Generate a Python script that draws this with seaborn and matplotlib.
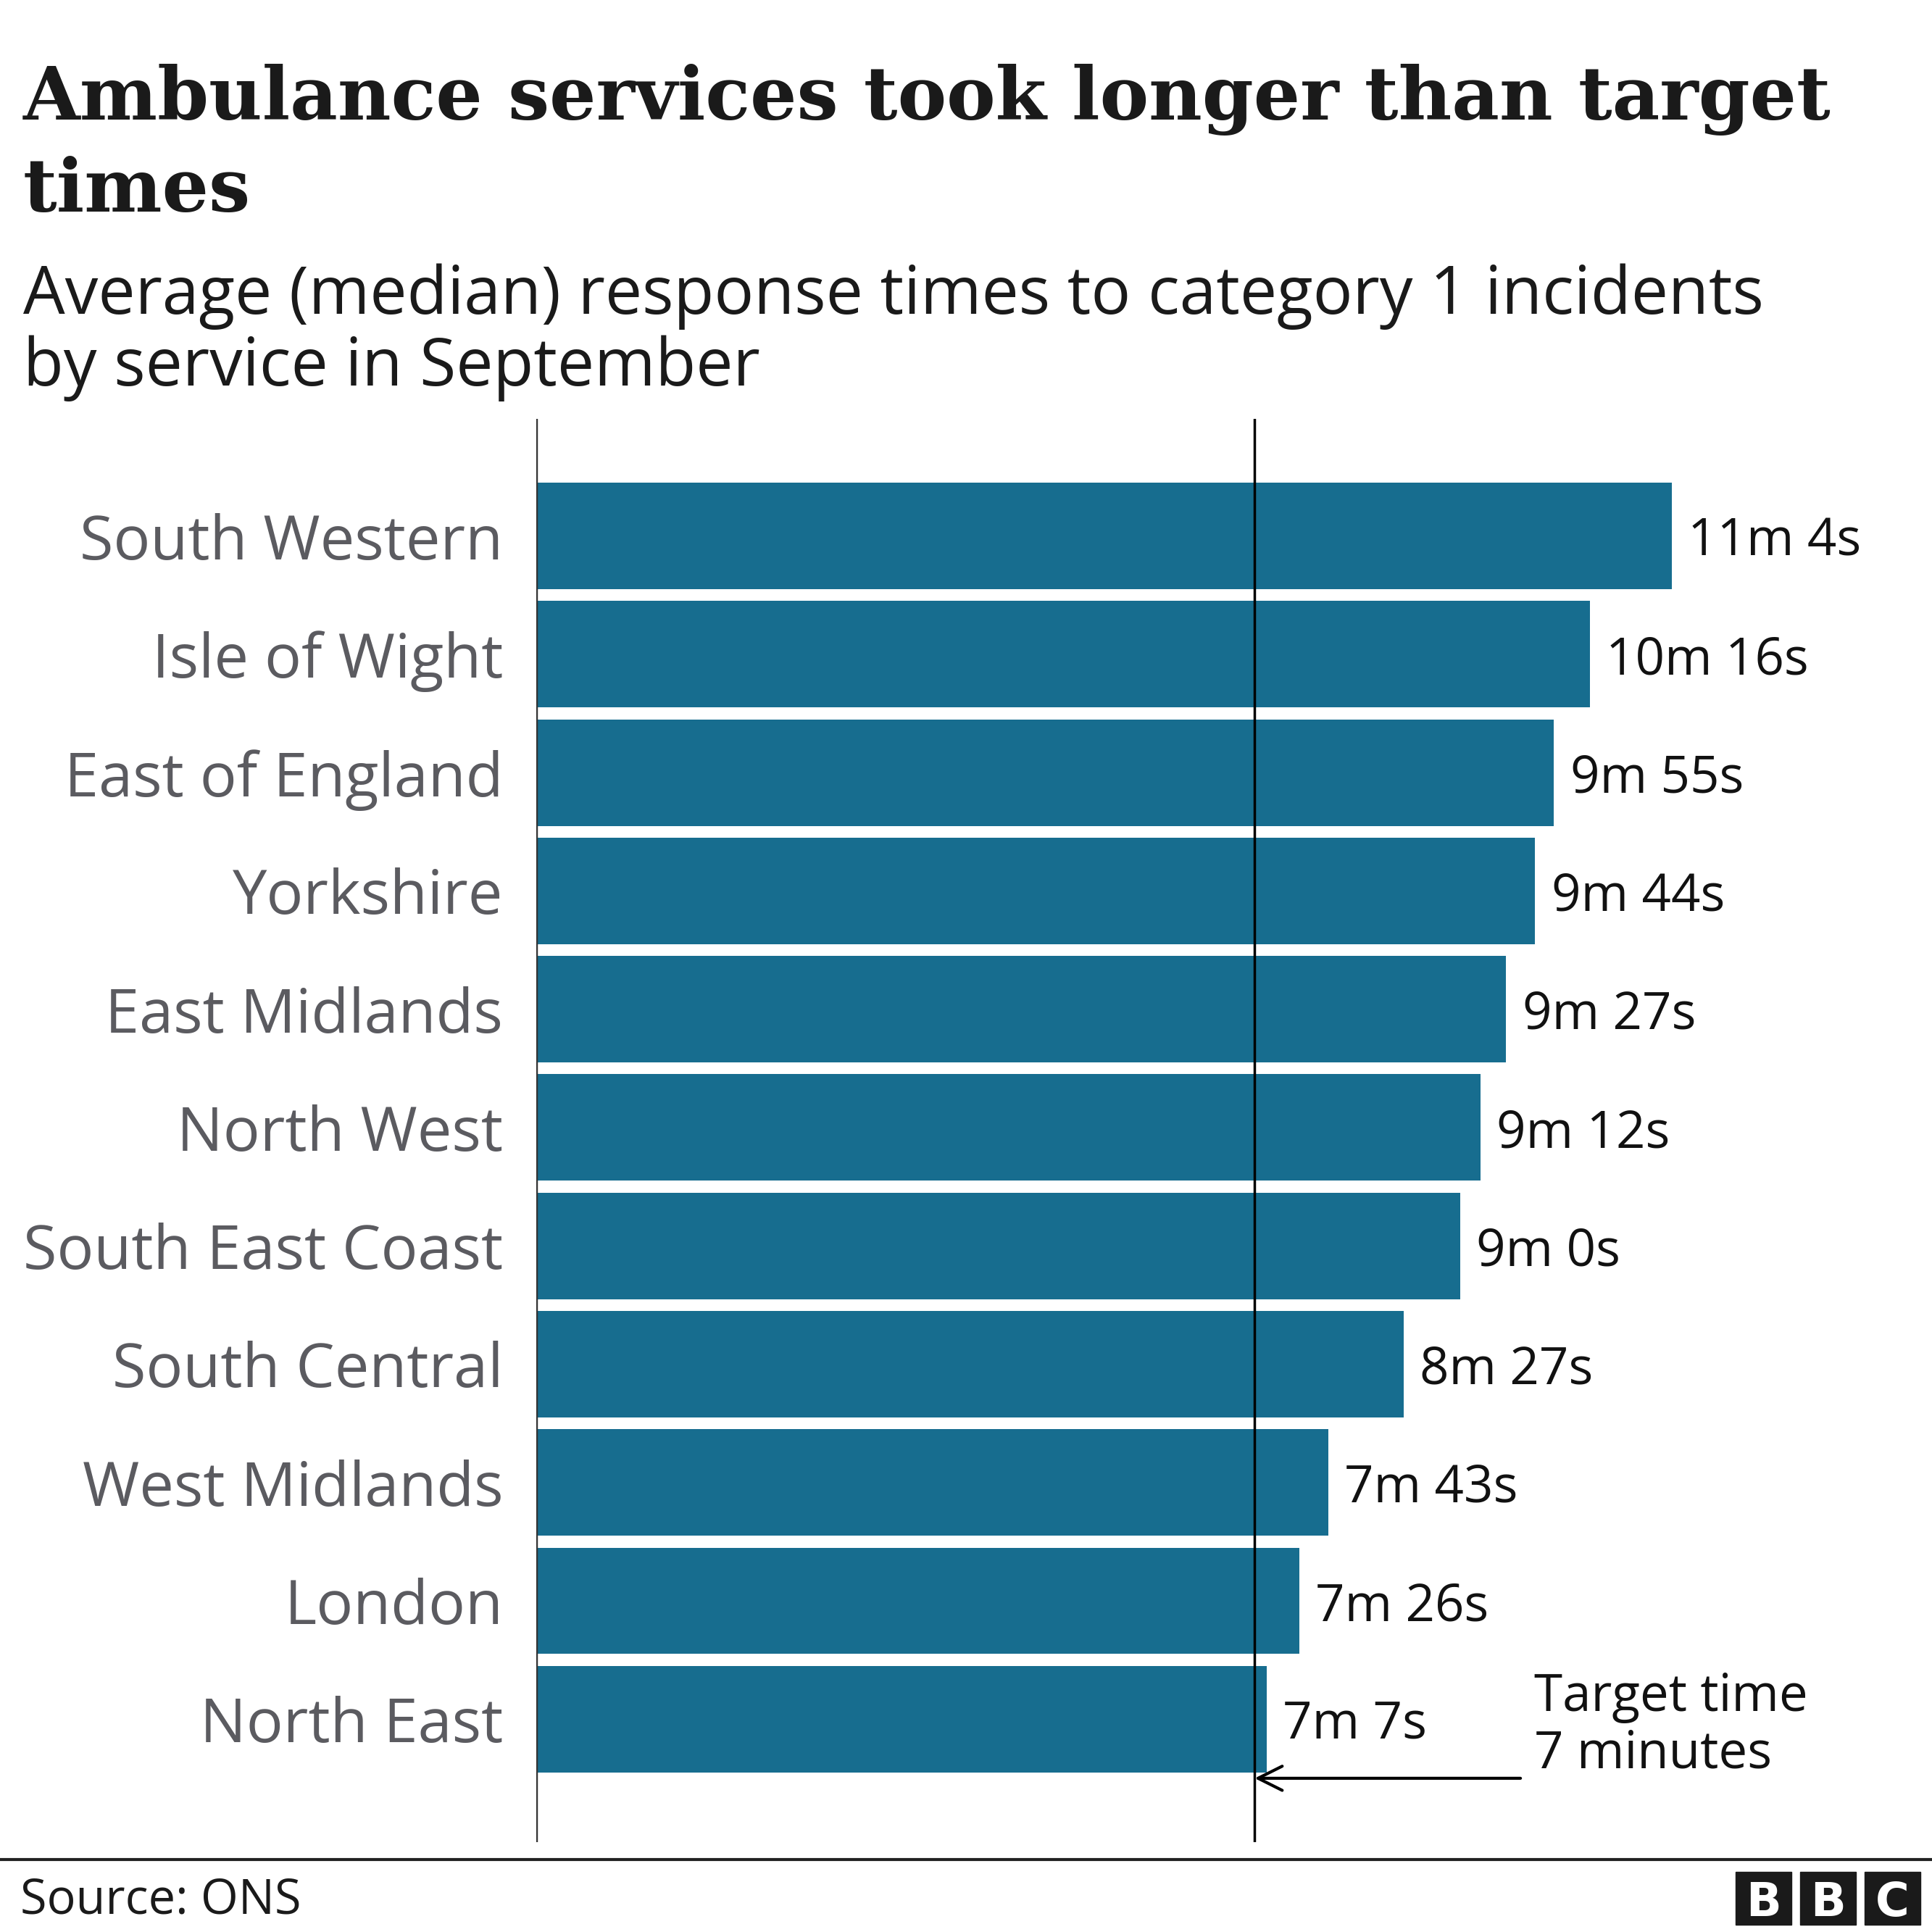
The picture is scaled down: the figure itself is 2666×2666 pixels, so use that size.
import pandas as pd
import seaborn as sns
import matplotlib.pyplot as plt
from matplotlib.lines import Line2D
from matplotlib.patches import Rectangle

# median category 1 response times, September
services = ['South Western', 'Isle of Wight', 'East of England', 'Yorkshire',
            'East Midlands', 'North West', 'South East Coast', 'South Central',
            'West Midlands', 'London', 'North East']
minutes = [11, 10, 9, 9, 9, 9, 9, 8, 7, 7, 7]
seconds = [4, 16, 55, 44, 27, 12, 0, 27, 43, 26, 7]
target_minutes = 7

df = pd.DataFrame({'service': services, 'minutes': minutes, 'seconds': seconds})
df['time'] = df['minutes'] + df['seconds'] / 60
df['label'] = [f'{m}m {s}s' for m, s in zip(minutes, seconds)]

sns.set_theme(style='white')
plt.rcParams['font.family'] = ['Open Sans', 'DejaVu Sans']

fig = plt.figure(figsize=(26.66, 26.66), dpi=100)
ax = fig.add_axes([0.2776, 0.0465, 0.7224, 0.7367])

sns.barplot(data=df, x='time', y='service', color='#176d8f', saturation=1,
            width=0.9, linewidth=0, errorbar=None, ax=ax)

ax.set_xlim(0, 13.6)
ax.set_ylim(11.04, -0.99)
ax.axvline(0, color='#333333', lw=2.5, zorder=3)
ax.axvline(target_minutes, color='black', lw=2.5, zorder=3)

ax.set_xlabel('')
ax.set_ylabel('')
ax.set_xticks([])
ax.tick_params(axis='y', length=0, pad=33, labelsize=61, labelcolor='#5b5b60')
sns.despine(ax=ax, left=True, bottom=True)

for i, row in df.iterrows():
    ax.annotate(row['label'], xy=(row['time'], i), xytext=(16, 0),
                textcoords='offset points', va='center_baseline', ha='left',
                fontsize=51, color='#111111')

# target marker
ax.annotate('', xy=(target_minutes, 10.5), xytext=(9.59, 10.5),
            arrowprops=dict(arrowstyle='->', color='black', lw=3,
                            mutation_scale=60, shrinkA=0, shrinkB=0))
ax.text(9.72, 9.93, 'Target time', fontsize=51, va='baseline', color='#111111')
ax.text(9.72, 10.41, '7 minutes', fontsize=51, va='baseline', color='#111111')

# titles
fig.text(0.012, 0.9381, 'Ambulance services took longer than target',
         family='DejaVu Serif', fontweight='bold', fontsize=73,
         va='baseline', color='#1a1a1a')
fig.text(0.012, 0.8903, 'times', family='DejaVu Serif', fontweight='bold',
         fontsize=73, va='baseline', color='#1a1a1a')
fig.text(0.012, 0.8374, 'Average (median) response times to category 1 incidents',
         fontsize=65.7, va='baseline', color='#1a1a1a')
fig.text(0.012, 0.8004, 'by service in September', fontsize=65.7,
         va='baseline', color='#1a1a1a')

# footer
fig.add_artist(Line2D([0, 1], [0.0375, 0.0375], transform=fig.transFigure,
                      color='#222222', lw=3))
fig.text(0.0105, 0.0096, 'Source: ONS', fontsize=48, va='baseline',
         color='#1a1a1a')
for k, letter in enumerate('BBC'):
    x0 = (2395 + k * 89) / 2666
    fig.add_artist(Rectangle((x0, 0.00375), 0.0289, 0.0274,
                             transform=fig.transFigure, color='#1a1a1a'))
    fig.text(x0 + 0.01445, 0.00375 + 0.0137, letter, fontsize=46,
             fontweight='bold', color='white', ha='center',
             va='center_baseline', family='DejaVu Sans')

fig.savefig('out.png', dpi=100)
